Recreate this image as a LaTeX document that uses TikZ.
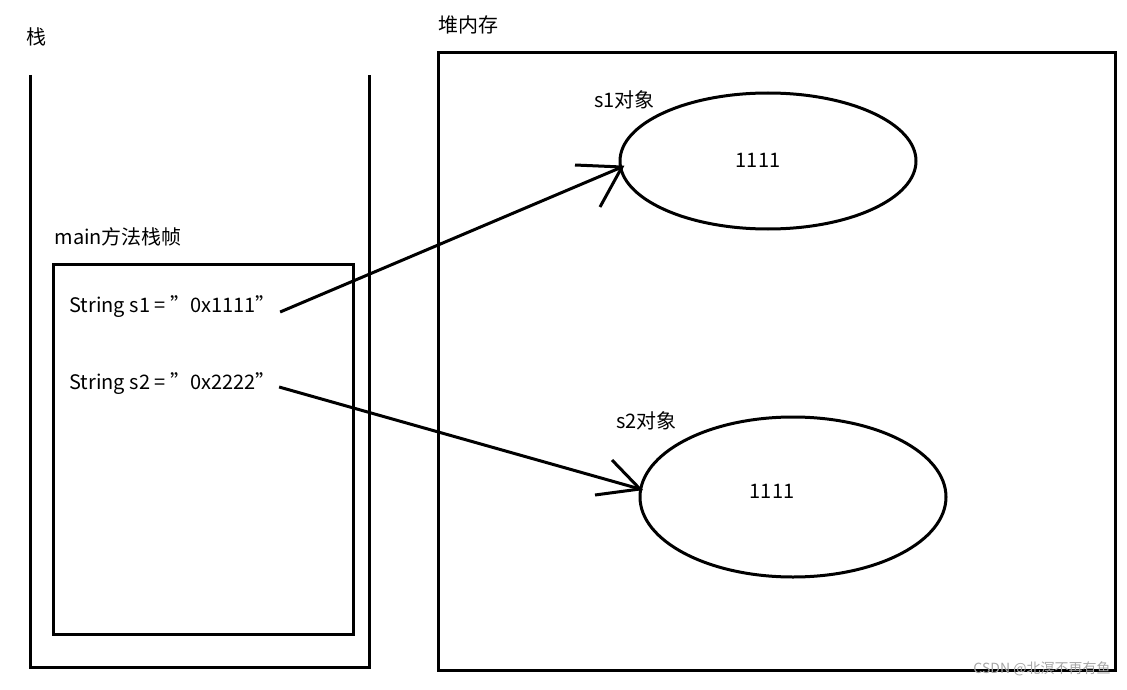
\documentclass[tikz,border=0pt]{standalone}
\usepackage{fontspec}
\setmainfont{Noto Sans CJK SC}
\begin{document}
\begin{tikzpicture}[x=1pt,y=-1pt,line width=3pt,
  lbl/.style={font=\fontsize{20}{24}\selectfont,inner sep=0pt},
  obj/.style={draw,ellipse,minimum width=#1}]
\useasboundingbox (0,0) rectangle (1127,690);
\node[lbl] (stk) at (37,37) {栈};
\draw (30,75) -- (30,667) -- (369,667) -- (369,75);
\node[lbl,anchor=west] (mt) at (53,237) {main方法栈帧};
\draw (53,264) rectangle (353,634);
\node[lbl,anchor=west] (v1) at (68,307) {String s1 = "0x1111"};
\node[lbl,anchor=west] (v2) at (68,384) {String s2 = "0x2222"};
\node[lbl,anchor=west] (heap) at (437,25) {堆内存};
\draw (438,53) rectangle (1115,670);
\node[lbl,anchor=west] (o1l) at (593,100) {s1对象};
\draw (768,161) ellipse [x radius=148,y radius=68];
\node[lbl] (o1) at (758,160) {1111};
\node[lbl,anchor=west] (o2l) at (615,421) {s2对象};
\draw (793,497) ellipse [x radius=153,y radius=80];
\node[lbl] (o2) at (772,491) {1111};
\coordinate (t1) at (622,167);
\coordinate (t2) at (640,489);
\draw (v1.east)++(3,5) -- (t1);
\draw (575,165) -- (t1) -- (600,207);
\draw (v2.east)++(2,3) -- (t2);
\draw (612,460) -- (t2) -- (595,495);
\node[anchor=east,inner sep=0pt,text=gray!70,font=\fontsize{14}{16}\selectfont] (wm) at (1112,669) {CSDN @北溟不再有鱼};
\end{tikzpicture}
\end{document}
